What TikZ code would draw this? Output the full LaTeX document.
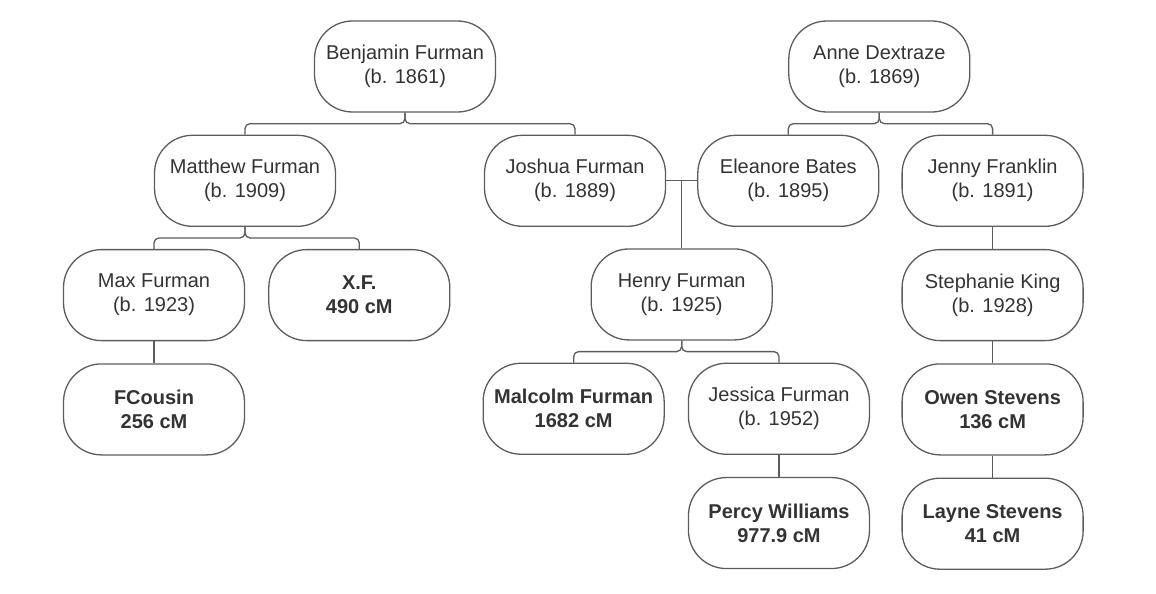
\documentclass[tikz,border=0pt]{standalone}
\usepackage{fontspec}
\setmainfont{Liberation Sans}
\usetikzlibrary{positioning}
\definecolor{linegray}{HTML}{5C5C5C}
\definecolor{textgray}{HTML}{333333}
\tikzset{
    %Define style for family members
    person/.style={
           rectangle,
           rounded corners=38pt,
           draw=linegray, line width=1.3pt,
           text=textgray,
           minimum width=181pt,
           minimum height=91pt,
           inner sep=0pt,
           align=center,
           font=\fontsize{20}{24}\selectfont},
    % Define style for DNA matches
    match/.style={
           person,
           font=\fontsize{20}{24}\selectfont\bfseries},
    % Define line style
    kin/.style={
           draw=linegray,
           line width=1.3pt,
           rounded corners=5pt,}
}

\begin{document}
\begin{tikzpicture}[node distance=22pt]
        \useasboundingbox (0,0) rectangle (1156pt,-594pt);
        %nodes

        % Benjamin Furman node
        \node[person] at (405pt,-66.5pt)
        (benjamin)
        {Benjamin Furman\\(b. 1861)}
        ;

        % Anne Dextraze node
        \node[person, right=292pt of benjamin]
        (anne)
        {Anne Dextraze\\(b. 1869)}
        ;

        % Matthew Furman node
        \node[person, below=of benjamin, xshift=-160pt]
        (matthew)
        {Matthew Furman\\(b. 1909)}
        ;

        % Joshua Furman node
        \node[person, below=of benjamin, xshift=170pt]
        (joshua)
        {Joshua Furman\\(b. 1889)}
        ;

        % Eleanore Bates node
        \node[person, right=31pt of joshua]
        (eleanore)
        {Eleanore Bates\\(b. 1895)}
        ;

        % Jenny Franklin node
        \node[person, right=of eleanore]
        (jenny)
        {Jenny Franklin\\(b. 1891)}
        ;

        % Max Furman node
        \node[person, below=of matthew, xshift=-91pt]
        (max)
        {Max Furman\\(b. 1923)}
        ;

        % X.F. node
        \node[match, right=23pt of max]
        (xf)
        {X.F.\\490 cM}
        ;

        % marriage point of Joshua and Eleanore
        \coordinate[right=15.5pt of joshua] (jemarriage);

        % Henry Furman node
        \node[person, below=67.5pt of jemarriage]
        (henry)
        {Henry Furman\\(b. 1925)}
        ;

        % Stephanie King node
        \node[person, below=of jenny]
        (stephanie)
        {Stephanie King\\(b. 1928)}
        ;

        % FCousin node
        \node[match, below=of max]
        (fcousin)
        {FCousin\\256 cM}
        ;

        % Malcolm Furman node
        \node[match, below=of henry, xshift=-108pt]
        (malcolm)
        {Malcolm Furman\\1682 cM}
        ;

        % Jessica Furman node
        \node[person, right=23pt of malcolm]
        (jessica)
        {Jessica Furman\\(b. 1952)}
        ;

        % Owen Stevens node
        \node[match, below=of stephanie]
        (owen)
        {Owen Stevens\\136 cM}
        ;

        % Percy Williams node
        \node[match, below=of jessica]
        (percy)
        {Percy Williams\\977.9 cM}
        ;

        % Layne Stevens node
        \node[match, below=of owen]
        (layne)
        {Layne Stevens\\41 cM}
        ;

        % forks under parents
        \coordinate[below=11pt of benjamin] (bjfork);
        \coordinate[below=11pt of anne] (anfork);
        \coordinate[below=11pt of matthew] (mtfork);
        \coordinate[below=11pt of henry] (hnfork);

        % Benjamin and his sons
        \draw[kin] (matthew.north) |- (bjfork) -- (benjamin.south);
        \draw[kin] (joshua.north) |- (bjfork) -- (benjamin.south);

        % Anne and her daughters
        \draw[kin] (eleanore.north) |- (anfork) -- (anne.south);
        \draw[kin] (jenny.north) |- (anfork) -- (anne.south);

        % Matthew and his children
        \draw[kin] (max.north) |- (mtfork) -- (matthew.south);
        \draw[kin] (xf.north) |- (mtfork) -- (matthew.south);

        % Joshua, Eleanore and Henry
        \draw[kin] (joshua.east) -- (eleanore.west);
        \draw[kin] (jemarriage) -- (henry.north);

        % Henry and his children
        \draw[kin] (malcolm.north) |- (hnfork) -- (henry.south);
        \draw[kin] (jessica.north) |- (hnfork) -- (henry.south);

        % single lines of descent
        \draw[kin] (max) -- (fcousin);
        \draw[kin] (jessica) -- (percy);
        \draw[kin] (jenny) -- (stephanie);
        \draw[kin] (stephanie) -- (owen);
        \draw[kin] (owen) -- (layne);

\end{tikzpicture}
\end{document}
